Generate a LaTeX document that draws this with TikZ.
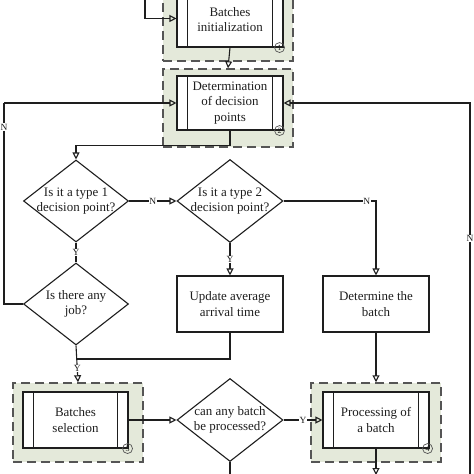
\documentclass[tikz,border=0pt]{standalone}
\usepackage{fontspec}
\setmainfont{Liberation Serif}
\usetikzlibrary{shapes.geometric,arrows.meta,calc}
\definecolor{framefill}{RGB}{228,233,218}
\definecolor{framedraw}{RGB}{85,85,85}
\definecolor{ink}{RGB}{30,30,30}
\begin{document}
\begin{tikzpicture}[x=1bp,y=-1bp,
  line width=1.1bp, draw=ink,
  frm/.style={rectangle, draw=framedraw, fill=framefill, dash pattern=on 9bp off 5bp, line width=1.5bp, inner sep=0},
  pbox/.style={rectangle, draw=ink, fill=white, inner sep=0, line width=1.1bp},
  dia/.style={diamond, draw=ink, fill=white, inner sep=0, line width=1.1bp},
  txt/.style={align=center, text=ink, font=\fontsize{13}{15.5}\selectfont, inner sep=0},
  lab/.style={fill=white, text=ink, font=\fontsize{9.5}{10}\selectfont, inner sep=0.6bp},
  num/.style={circle, draw=framedraw, line width=0.7bp, inner sep=0, minimum size=10bp, font=\fontsize{8}{8}\selectfont, text=ink},
  arr/.style={-{Triangle[open, length=7bp, width=7bp]}},
]
\clip (0,0) rectangle (474,474);
\fill[white] (0,0) rectangle (474,474);

% frames
\node[frm, minimum width=130bp, minimum height=81bp] (f1) at (228,20.5) {};
\node[frm, minimum width=130bp, minimum height=78bp] (f2) at (228,108) {};
\node[frm, minimum width=130bp, minimum height=79bp] (f3) at (78,422.5) {};
\node[frm, minimum width=130bp, minimum height=79bp] (f4) at (376,422.5) {};

% process boxes
\node[pbox, minimum width=106bp, minimum height=57bp] (b1) at (230,18.5) {};
\node[txt] at (230,19.5) {Batches\\initialization};
\node[pbox, minimum width=106bp, minimum height=54bp] (b2) at (230,103) {};
\node[txt] at (b2) {Determination\\of decision\\points};
\node[pbox, minimum width=105bp, minimum height=56bp] (b3) at (75.5,420) {};
\node[txt] at (b3) {Batches\\selection};
\node[pbox, minimum width=106bp, minimum height=56bp] (b4) at (376,420) {};
\node[txt] at (b4) {Processing of\\a batch};
\foreach \b in {b1,b2,b3,b4}{
  \draw ([xshift=11bp]\b.north west) -- ([xshift=11bp]\b.south west);
  \draw ([xshift=-11bp]\b.north east) -- ([xshift=-11bp]\b.south east);
}
\node[num] (n1) at ([xshift=-4bp]b1.south east) {1};
\node[num] (n2) at ([xshift=-4bp]b2.south east) {2};
\node[num] (n3) at ([xshift=-1bp]b3.south east) {3};
\node[num] (n4) at ([xshift=-2bp]b4.south east) {4};

% plain boxes
\node[pbox, minimum width=106bp, minimum height=56bp, txt] (u) at (230,304) {Update average\\arrival time};
\node[pbox, minimum width=106bp, minimum height=56bp, txt] (db) at (376,304) {Determine the\\batch};

% diamonds
\node[dia, minimum width=105bp, minimum height=82bp] (d1) at (76,201) {};
\node[txt] at (d1) {Is it a type 1\\decision point?};
\node[dia, minimum width=106bp, minimum height=83bp] (d2) at (230,201) {};
\node[txt] at (d2) {Is it a type 2\\decision point?};
\node[dia, minimum width=105bp, minimum height=82bp] (d3) at (76,304) {};
\node[txt] at (d3) {Is there any\\job?};
\node[dia, minimum width=106bp, minimum height=83bp] (d4) at (230,420) {};
\node[txt] at (d4) {can any batch\\be processed?};

% free ends
\coordinate (c0) at (145,-5);
\coordinate (L) at (4,103);
\coordinate (R) at (470,480);
\coordinate (j) at (76,359);
\coordinate (e1) at (376,475);
\coordinate (e2) at (230,480);

% connectors
\draw[arr] (c0) |- (b1.west);
\draw[arr] (b1.south) -- (f2.north);
\draw[arr] (b2.south) -- ++(0,15) -| (d1.north);
\draw[arr] (d1.east) -- node[lab]{N} (d2.west);
\draw[arr] (d2.south) -- node[lab, pos=0.5]{Y} (u.north);
\draw[arr] (d2.east) -| node[lab, pos=0.45]{N} (db.north);
\draw (d1.south) -- node[lab]{Y} (d3.north);
\draw (d3.west) -| node[lab, pos=0.94]{N} (L);
\draw[arr] (L) -- (b2.west);
\draw[arr] (d3.south) -- node[lab, pos=0.63]{Y} (f3.north);
\draw (u.south) |- (j);
\draw[arr] (b3.east) -- (d4.west);
\draw[arr] (d4.east) -- node[lab]{Y} (b4.west);
\draw[arr] (db.south) -- (f4.north);
\draw[arr] (b4.south) -- (e1);
\draw (d4.south) -- (e2);
\draw[arr] (R) |- node[lab, pos=0.32]{N} (b2.east);
\end{tikzpicture}
\end{document}
